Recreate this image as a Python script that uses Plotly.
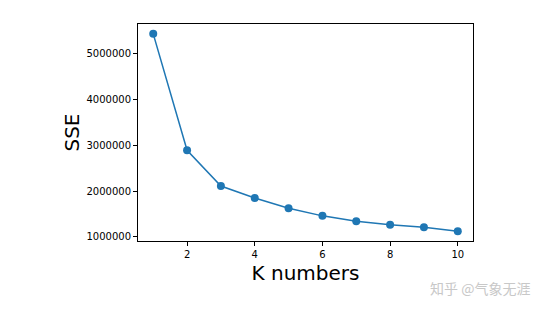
import plotly.graph_objects as go

k_numbers = [1, 2, 3, 4, 5, 6, 7, 8, 9, 10]
sse = [5435000, 2891000, 2109000, 1848000, 1624000, 1457000, 1341000, 1261000, 1210000, 1123000]
x_ticks = [2, 4, 6, 8, 10]
y_ticks = [1000000, 2000000, 3000000, 4000000, 5000000]

font_family = "DejaVu Sans"

fig = go.Figure()
fig.add_trace(go.Scatter(
    x=k_numbers, y=sse, mode="lines+markers",
    line=dict(color="#1f77b4", width=1.5),
    marker=dict(color="#1f77b4", size=8),
    showlegend=False,
))

xmin, xmax = min(k_numbers), max(k_numbers)
ymin, ymax = min(sse), max(sse)
xpad = (xmax - xmin) * 0.05
ypad = (ymax - ymin) * 0.05

axis_common = dict(
    showline=True, linecolor="black", linewidth=1, mirror=True,
    ticks="outside", ticklen=4, tickwidth=1, tickcolor="black",
    showgrid=False, zeroline=False,
    tickfont=dict(family=font_family, size=10, color="black"),
)

fig.update_layout(
    width=555, height=312,
    margin=dict(l=138, r=82, t=24, b=71),
    paper_bgcolor="white", plot_bgcolor="white",
    xaxis=dict(
        range=[xmin - xpad, xmax + xpad],
        tickvals=x_ticks, ticktext=[str(v) for v in x_ticks],
        title=dict(text="K numbers", font=dict(family=font_family, size=20, color="black"), standoff=6),
        **axis_common,
    ),
    yaxis=dict(
        range=[ymin - ypad, ymax + ypad],
        tickvals=y_ticks, ticktext=[str(v) for v in y_ticks],
        title=dict(text="SSE", font=dict(family=font_family, size=20, color="black"), standoff=1),
        **axis_common,
    ),
    annotations=[dict(
        text="知乎 @气象无涯", xref="paper", yref="paper",
        x=1.021, y=-0.217, xanchor="center", yanchor="middle", showarrow=False,
        font=dict(family="Noto Sans CJK SC", size=14, color="#c8c8c8"),
    )],
)

fig.write_html("out.html")
